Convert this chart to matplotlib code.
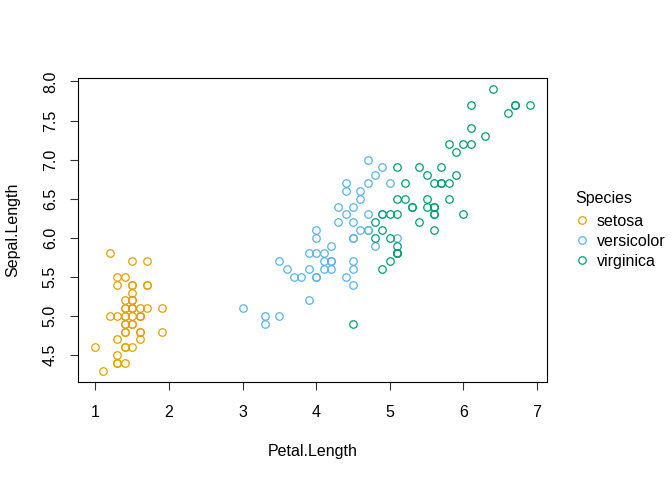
import matplotlib
matplotlib.use("Agg")
import matplotlib.pyplot as plt
from matplotlib.lines import Line2D

plt.rcParams["font.family"] = ["Liberation Sans", "DejaVu Sans"]

# iris: Petal.Length / Sepal.Length by species
setosa_petal = [1.4, 1.4, 1.3, 1.5, 1.4, 1.7, 1.4, 1.5, 1.4, 1.5, 1.5, 1.6, 1.4, 1.1, 1.2, 1.5, 1.3,
                1.4, 1.7, 1.5, 1.7, 1.5, 1.0, 1.7, 1.9, 1.6, 1.6, 1.5, 1.4, 1.6, 1.6, 1.5, 1.5, 1.4,
                1.5, 1.2, 1.3, 1.4, 1.3, 1.5, 1.3, 1.3, 1.3, 1.6, 1.9, 1.4, 1.6, 1.4, 1.5, 1.4]
setosa_sepal = [5.1, 4.9, 4.7, 4.6, 5.0, 5.4, 4.6, 5.0, 4.4, 4.9, 5.4, 4.8, 4.8, 4.3, 5.8, 5.7, 5.4,
                5.1, 5.7, 5.1, 5.4, 5.1, 4.6, 5.1, 4.8, 5.0, 5.0, 5.2, 5.2, 4.7, 4.8, 5.4, 5.2, 5.5,
                4.9, 5.0, 5.5, 4.9, 4.4, 5.1, 5.0, 4.5, 4.4, 5.0, 5.1, 4.8, 5.1, 4.6, 5.3, 5.0]
versicolor_petal = [4.7, 4.5, 4.9, 4.0, 4.6, 4.5, 4.7, 3.3, 4.6, 3.9, 3.5, 4.2, 4.0, 4.7, 3.6, 4.4, 4.5,
                    4.1, 4.5, 3.9, 4.8, 4.0, 4.9, 4.7, 4.3, 4.4, 4.8, 5.0, 4.5, 3.5, 3.8, 3.7, 3.9, 5.1,
                    4.5, 4.5, 4.7, 4.4, 4.1, 4.0, 4.4, 4.6, 4.0, 3.3, 4.2, 4.2, 4.2, 4.3, 3.0, 4.1]
versicolor_sepal = [7.0, 6.4, 6.9, 5.5, 6.5, 5.7, 6.3, 4.9, 6.6, 5.2, 5.0, 5.9, 6.0, 6.1, 5.6, 6.7, 5.6,
                    5.8, 6.2, 5.6, 5.9, 6.1, 6.3, 6.1, 6.4, 6.6, 6.8, 6.7, 6.0, 5.7, 5.5, 5.5, 5.8, 6.0,
                    5.4, 6.0, 6.7, 6.3, 5.6, 5.5, 5.5, 6.1, 5.8, 5.0, 5.6, 5.7, 5.7, 6.2, 5.1, 5.7]
virginica_petal = [6.0, 5.1, 5.9, 5.6, 5.8, 6.6, 4.5, 6.3, 5.8, 6.1, 5.1, 5.3, 5.5, 5.0, 5.1, 5.3, 5.5,
                   6.7, 6.9, 5.0, 5.7, 4.9, 6.7, 4.9, 5.7, 6.0, 4.8, 4.9, 5.6, 5.8, 6.1, 6.4, 5.6, 5.1,
                   5.6, 6.1, 5.6, 5.5, 4.8, 5.4, 5.6, 5.1, 5.1, 5.9, 5.7, 5.2, 5.0, 5.2, 5.4, 5.1]
virginica_sepal = [6.3, 5.8, 7.1, 6.3, 6.5, 7.6, 4.9, 7.3, 6.7, 7.2, 6.5, 6.4, 6.8, 5.7, 5.8, 6.4, 6.5,
                   7.7, 7.7, 6.0, 6.9, 5.6, 7.7, 6.3, 6.7, 7.2, 6.2, 6.1, 6.4, 7.2, 7.4, 7.9, 6.4, 6.3,
                   6.1, 7.7, 6.3, 6.4, 6.0, 6.9, 6.7, 6.9, 5.8, 6.8, 6.7, 6.7, 6.3, 6.5, 6.2, 5.9]

species = ["setosa", "versicolor", "virginica"]
colors = ["#E69F00", "#56B4E9", "#009E73"]
x_ticks = [1, 2, 3, 4, 5, 6, 7]
y_ticks = [4.5, 5.0, 5.5, 6.0, 6.5, 7.0, 7.5, 8.0]

FS = 11.5

fig = plt.figure(figsize=(6.72, 4.8), dpi=100)
ax = fig.add_axes([78 / 672, 1 - 382 / 480, (547 - 78) / 672, (382 - 78) / 480])

groups = [(setosa_petal, setosa_sepal), (versicolor_petal, versicolor_sepal),
          (virginica_petal, virginica_sepal)]
for (px, sy), col in zip(groups, colors):
    ax.plot(px, sy, linestyle="none", marker="o", markersize=5.4,
            markerfacecolor="none", markeredgecolor=col, markeredgewidth=0.9)

allx = setosa_petal + versicolor_petal + virginica_petal
ally = setosa_sepal + versicolor_sepal + virginica_sepal
dx = (max(allx) - min(allx)) * 0.04
dy = (max(ally) - min(ally)) * 0.04
ax.set_xlim(min(allx) - dx, max(allx) + dx)
ax.set_ylim(min(ally) - dy, max(ally) + dy)

ax.set_xticks(x_ticks)
ax.set_xticklabels([str(v) for v in x_ticks])
ax.set_yticks(y_ticks)
ax.set_yticklabels([f"{v:.1f}" for v in y_ticks], rotation=90, va="center")
ax.tick_params(direction="out", length=5.5, width=0.8, labelsize=FS, color="#333333")
ax.tick_params(axis="x", pad=11)
ax.tick_params(axis="y", pad=9)
for s in ax.spines.values():
    s.set_linewidth(0.8)

ax.set_xlabel("Petal.Length", fontsize=FS, labelpad=17)
ax.set_ylabel("Sepal.Length", fontsize=FS, labelpad=16)

# legend title placed on its own, entries below it
fig.text(575 / 672, 1 - 198 / 480, "Species", fontsize=FS, ha="left", va="center")
handles = [Line2D([], [], linestyle="none", marker="o", markersize=5.4, markerfacecolor="none",
                  markeredgecolor=c, markeredgewidth=0.9) for c in colors]
leg = fig.legend(handles, species, loc="upper left",
                 bbox_to_anchor=(576 / 672, 1 - 214 / 480), frameon=False, fontsize=FS,
                 handlelength=0.7, handletextpad=0.6, labelspacing=0.3,
                 borderaxespad=0, borderpad=0, handleheight=0.7)

fig.savefig("out.png", dpi=100)
